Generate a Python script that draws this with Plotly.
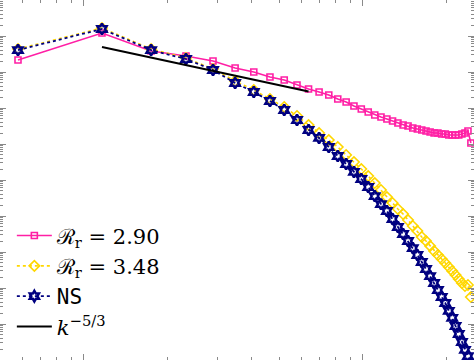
import plotly.graph_objects as go

# wavenumber index
k = list(range(1, 43))

# R_r = 2.90 (pink)
e_290 = [0.215, 1.212, 0.383, 0.278, 0.202, 0.129, 0.100, 0.0726, 0.0600, 0.0435,
         0.0337, 0.0278, 0.0230, 0.0178, 0.0147, 0.01136, 0.00938, 0.00774, 0.00639, 0.00562,
         0.00495, 0.00435, 0.00383, 0.00337, 0.00316, 0.00278, 0.00261, 0.00245, 0.00230, 0.00215,
         0.00202, 0.00202, 0.00190, 0.00190, 0.00178, 0.00178, 0.00178, 0.00178, 0.00190, 0.00202,
         0.00230, 0.001066]

# R_r = 3.48 (yellow)
e_348 = [0.435, 1.668, 0.435, 0.2448, 0.1212, 0.0562, 0.0316, 0.0178, 0.01066, 0.0060,
         0.00337, 0.00202, 0.00129, 0.000825, 0.000495, 0.000316, 0.000202, 0.000129, 8.25e-5, 5.28e-5,
         3.37e-5, 2.30e-5, 1.565e-5, 1.136e-5, 7.74e-6, 5.28e-6, 3.83e-6, 2.61e-6, 2.02e-6, 1.47e-6,
         1.066e-6, 8.25e-7, 6.39e-7, 4.95e-7, 3.83e-7, 2.97e-7, 2.30e-7, 1.778e-7, 1.377e-7, 1.136e-7,
         1.212e-7, 5.62e-8]

# NS (navy)
e_ns = [0.408, 1.565, 0.408, 0.2297, 0.1136, 0.0495, 0.0278, 0.01565, 0.00880, 0.00464,
        0.00245, 0.00147, 0.000825, 0.000464, 0.000278, 0.000167, 0.0001066, 6.39e-5, 3.59e-5, 2.15e-5,
        1.377e-5, 8.25e-6, 4.95e-6, 3.16e-6, 2.02e-6, 1.29e-6, 8.25e-7, 5.28e-7, 3.37e-7, 2.15e-7,
        1.377e-7, 8.80e-8, 5.62e-8, 3.83e-8, 2.30e-8, 1.47e-8, 8.80e-9, 5.28e-9, 3.16e-9, 1.90e-9,
        1.29e-9, 8.25e-10]

# k^(-5/3) reference line
k_line = [2, 3, 4, 5, 6, 7, 8, 9, 10, 11]
c_line = 1.571
e_line = [c_line * kk ** (-5.0 / 3.0) for kk in k_line]

labels = ["ℛ<sub>r</sub> = 2.90", "ℛ<sub>r</sub> = 3.48",
          "<span style='font-family:DejaVu Sans Mono'>NS</span>", "<i>k</i><sup>−5/3</sup>"]

fig = go.Figure()
fig.add_trace(go.Scatter(x=k, y=e_290, name=labels[0], mode="lines+markers",
                         line=dict(color="#ff1fa5", width=1.6),
                         marker=dict(symbol="square-open", size=6, color="#ff1fa5",
                                     line=dict(width=1.6, color="#ff1fa5"))))
fig.add_trace(go.Scatter(x=k, y=e_348, name=labels[1], mode="lines+markers",
                         line=dict(color="#ffd700", width=1.6, dash="dot"),
                         marker=dict(symbol="diamond-open", size=8, color="#ffd700",
                                     line=dict(width=1.6, color="#ffd700"))))
fig.add_trace(go.Scatter(x=k, y=e_ns, name=labels[2], mode="lines+markers",
                         line=dict(color="#000080", width=1.8, dash="dot"),
                         marker=dict(symbol="hexagram-open", size=8, color="#000080",
                                     line=dict(width=2.5, color="#000080"))))
fig.add_trace(go.Scatter(x=k_line, y=e_line, name=labels[3], mode="lines",
                         line=dict(color="black", width=2)))

# tick positions (axis units offset from index)
xc = 1.724
x_major = [xc * 10 ** e for e in (-1, 0, 1)]
x_minor = [xc * m * 10 ** e for e in (-1, 0, 1) for m in range(2, 10)]
y_major = [10.0 ** e for e in range(-10, 2)]
y_minor = [m * 10.0 ** e for e in range(-10, 2) for m in range(2, 10)]

tick_color = "#8a8a8a"
fig.update_xaxes(type="log", range=[-0.0645, 1.6344], showgrid=False, zeroline=False,
                 showline=False, showticklabels=False, ticks="inside", mirror="ticks",
                 tickmode="array", tickvals=x_major, ticklen=6, tickwidth=1, tickcolor=tick_color,
                 minor=dict(tickmode="array", tickvals=x_minor, ticks="inside", ticklen=3,
                            tickwidth=1, tickcolor=tick_color, showgrid=False))
fig.update_yaxes(type="log", range=[-9, 1], showgrid=False, zeroline=False,
                 showline=False, showticklabels=False, ticks="inside", mirror="ticks",
                 tickmode="array", tickvals=y_major, ticklen=6, tickwidth=1, tickcolor=tick_color,
                 minor=dict(tickmode="array", tickvals=y_minor, ticks="inside", ticklen=3,
                            tickwidth=1, tickcolor=tick_color, showgrid=False))

fig.update_layout(width=474, height=360, margin=dict(l=0, r=0, t=0, b=0),
                  paper_bgcolor="white", plot_bgcolor="white",
                  legend=dict(x=0.025, y=0.035, xanchor="left", yanchor="bottom",
                              bgcolor="rgba(0,0,0,0)", borderwidth=0, tracegroupgap=0,
                              font=dict(family="DejaVu Serif", size=21, color="black"),
                              itemwidth=35))

fig.write_html("out.html", config={"displayModeBar": False},
               post_script="document.body.style.margin='0';document.body.style.overflow='hidden';")
